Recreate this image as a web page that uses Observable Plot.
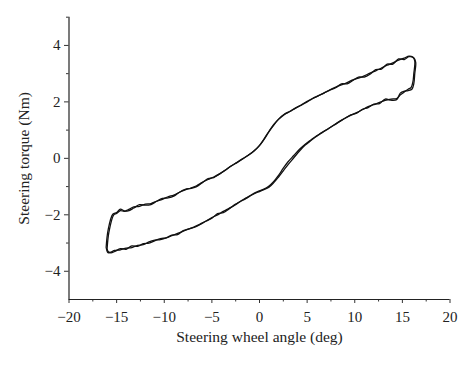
<!DOCTYPE html>
<html>
<head>
<meta charset="utf-8">
<script src="https://cdn.jsdelivr.net/npm/d3@7"></script>
<script src="https://cdn.jsdelivr.net/npm/@observablehq/plot@0.6"></script>
<style>
  html, body { margin: 0; padding: 0; background: #fff; }
  #chart svg { display: block; }
</style>
</head>
<body>
<div id="chart"></div>
<script>
// Steering wheel angle (deg), steering torque (Nm) — two overlaid cycles
const cycle1 = [
  [-16.0,-3.20],[-15.8,-2.60],[-15.3,-2.00],[-15.0,-1.95],[-14.6,-1.85],[-14.2,-1.88],[-13.8,-1.82],
  [-13.2,-1.72],[-12.6,-1.70],[-12.0,-1.62],[-11.4,-1.60],[-10.8,-1.52],[-10.2,-1.45],[-9.6,-1.36],
  [-9.0,-1.30],[-8.4,-1.20],[-7.8,-1.12],[-7.2,-1.05],[-6.6,-0.97],[-6.0,-0.85],[-5.4,-0.75],
  [-4.8,-0.66],[-4.2,-0.55],[-3.6,-0.42],[-3.0,-0.28],[-2.4,-0.15],[-1.8,-0.02],[-1.2,0.10],
  [-0.6,0.25],[0.0,0.45],[0.5,0.68],[1.0,0.95],[1.5,1.18],[2.0,1.38],[2.6,1.55],[3.2,1.66],
  [3.8,1.78],[4.4,1.88],[5.0,2.00],[5.6,2.12],[6.2,2.22],[6.8,2.32],[7.4,2.43],[8.0,2.52],
  [8.6,2.60],[9.2,2.68],[9.8,2.78],[10.4,2.84],[11.0,2.92],[11.6,3.02],[12.2,3.10],[12.8,3.20],
  [13.4,3.30],[14.0,3.38],[14.6,3.48],[15.2,3.55],[15.7,3.62],[16.1,3.58],[16.3,3.45],[16.2,3.00],
  [16.1,2.70],[15.9,2.50],[15.6,2.45],[15.2,2.35],[14.8,2.25],[14.4,2.12],[13.8,2.10],[13.2,2.05],
  [12.6,1.98],[12.0,1.90],[11.4,1.83],[10.8,1.72],[10.2,1.62],[9.6,1.53],[9.0,1.43],[8.4,1.30],
  [7.8,1.17],[7.2,1.05],[6.6,0.92],[6.0,0.80],[5.4,0.65],[4.8,0.50],[4.2,0.32],[3.6,0.10],
  [3.0,-0.12],[2.5,-0.35],[2.0,-0.60],[1.5,-0.82],[1.0,-0.98],[0.4,-1.10],[-0.2,-1.18],[-0.8,-1.28],
  [-1.4,-1.40],[-2.0,-1.52],[-2.6,-1.66],[-3.2,-1.77],[-3.8,-1.88],[-4.4,-2.00],[-5.0,-2.10],
  [-5.6,-2.22],[-6.2,-2.32],[-6.8,-2.42],[-7.4,-2.50],[-8.0,-2.58],[-8.6,-2.66],[-9.2,-2.74],
  [-9.8,-2.82],[-10.4,-2.84],[-11.0,-2.92],[-11.6,-3.00],[-12.2,-3.02],[-12.8,-3.12],[-13.4,-3.10],
  [-14.0,-3.22],[-14.6,-3.20],[-15.2,-3.30],[-15.6,-3.35],[-15.9,-3.30],[-16.0,-3.20]
];
const cycle2 = [
  [-16.1,-3.15],[-15.9,-2.55],[-15.4,-1.98],[-15.0,-1.92],[-14.6,-1.80],[-14.2,-1.86],[-13.8,-1.86],
  [-13.2,-1.76],[-12.6,-1.64],[-12.0,-1.66],[-11.4,-1.64],[-10.8,-1.52],[-10.2,-1.42],[-9.6,-1.40],
  [-9.0,-1.34],[-8.4,-1.20],[-7.8,-1.10],[-7.2,-1.06],[-6.6,-1.00],[-6.0,-0.86],[-5.4,-0.72],
  [-4.8,-0.68],[-4.2,-0.56],[-3.6,-0.42],[-3.0,-0.27],[-2.4,-0.16],[-1.8,-0.03],[-1.2,0.11],
  [-0.6,0.26],[0.0,0.46],[0.5,0.70],[1.0,0.96],[1.5,1.20],[2.0,1.39],[2.6,1.56],[3.2,1.67],
  [3.8,1.79],[4.4,1.90],[5.0,2.02],[5.6,2.13],[6.2,2.22],[6.8,2.32],[7.4,2.42],[8.0,2.50],
  [8.6,2.64],[9.2,2.64],[9.8,2.76],[10.4,2.88],[11.0,2.88],[11.6,2.98],[12.2,3.14],[12.8,3.16],
  [13.4,3.34],[14.0,3.34],[14.6,3.52],[15.2,3.50],[15.7,3.60],[16.2,3.56],[16.4,3.40],[16.3,3.00],
  [16.2,2.65],[16.0,2.45],[15.6,2.40],[15.2,2.38],[14.8,2.32],[14.4,2.08],[13.8,2.06],[13.2,2.10],
  [12.6,1.94],[12.0,1.92],[11.4,1.80],[10.8,1.74],[10.2,1.60],[9.6,1.54],[9.0,1.42],[8.4,1.31],
  [7.8,1.18],[7.2,1.04],[6.6,0.92],[6.0,0.78],[5.4,0.63],[4.8,0.47],[4.2,0.26],[3.6,0.02],
  [3.0,-0.22],[2.5,-0.44],[2.0,-0.66],[1.5,-0.86],[1.0,-1.02],[0.4,-1.12],[-0.2,-1.20],[-0.8,-1.30],
  [-1.4,-1.42],[-2.0,-1.53],[-2.6,-1.64],[-3.2,-1.79],[-3.8,-1.92],[-4.4,-1.96],[-5.0,-2.12],
  [-5.6,-2.22],[-6.2,-2.34],[-6.8,-2.44],[-7.4,-2.50],[-8.0,-2.56],[-8.6,-2.70],[-9.2,-2.72],
  [-9.8,-2.82],[-10.4,-2.88],[-11.0,-2.90],[-11.6,-2.96],[-12.2,-3.06],[-12.8,-3.08],[-13.4,-3.16],
  [-14.0,-3.18],[-14.6,-3.24],[-15.2,-3.26],[-15.6,-3.32],[-15.9,-3.34],[-16.1,-3.15]
];
const xMajorTicks = [-20, -15, -10, -5, 0, 5, 10, 15, 20];
const xMinorTicks = [-17.5, -12.5, -7.5, -2.5, 2.5, 7.5, 12.5, 17.5];
const yMajorTicks = [-4, -2, 0, 2, 4];
const yMinorTicks = [-3, -1, 1, 3, 5];
const xTitle = "Steering wheel angle (deg)";
const yTitle = "Steering torque (Nm)";

const font = "'Liberation Serif', 'DejaVu Serif', serif";
const fmt = d => (d < 0 ? "\u2212" + Math.abs(d) : String(d));

const toRows = (arr, c) => arr.map(([x, y]) => ({x, y, c}));
const rows = [...toRows(cycle1, "a"), ...toRows(cycle2, "b")];

const chart = Plot.plot({
  width: 474,
  height: 366,
  marginLeft: 68.5,
  marginRight: 24.5,
  marginTop: 16.7,
  marginBottom: 67,
  style: {fontFamily: font, fontSize: "15px", color: "#222", background: "#fff"},
  x: {domain: [-20, 20]},
  y: {domain: [-5, 5]},
  marks: [
    Plot.axisX({ticks: xMinorTicks, tickSize: 2.5, tickFormat: () => "", label: null, stroke: "#333"}),
    Plot.axisX({ticks: xMajorTicks, tickSize: 4, tickPadding: 8, tickFormat: fmt, label: null, fill: "#222", stroke: "#333", fontSize: 15}),
    Plot.axisY({ticks: yMinorTicks, tickSize: 2.5, tickFormat: () => "", label: null, stroke: "#333"}),
    Plot.axisY({ticks: yMajorTicks, tickSize: 4.5, tickPadding: 4, tickFormat: fmt, label: null, fill: "#222", stroke: "#333", fontSize: 15}),
    Plot.ruleX([-20], {stroke: "#222", strokeWidth: 1.2}),
    Plot.ruleY([-5], {stroke: "#222", strokeWidth: 1.2}),
    Plot.line(rows, {x: "x", y: "y", z: "c", curve: "catmull-rom", stroke: "#111", strokeWidth: 1.3}),
    Plot.text([xTitle], {frameAnchor: "bottom", dy: 42, fontSize: 15.5, fill: "#222"}),
    Plot.text([yTitle], {frameAnchor: "left", textAnchor: "middle", dx: -44.5, rotate: -90, fontSize: 15.5, fill: "#222"})
  ]
});
document.getElementById("chart").appendChild(chart);
</script>
</body>
</html>
